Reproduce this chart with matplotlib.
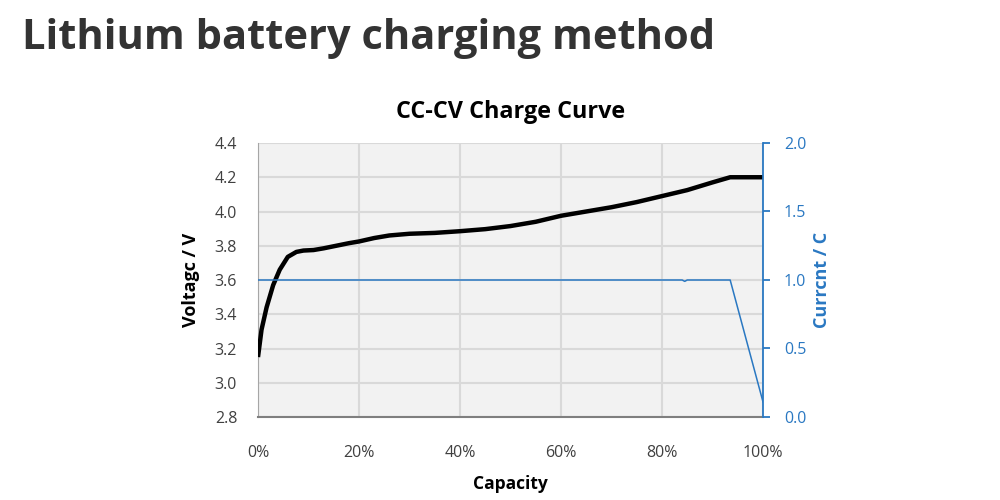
import matplotlib.pyplot as plt
from matplotlib.ticker import FuncFormatter

# charge curve
capacity = [0, 0.7, 1.7, 3.0, 4.3, 5.9, 7.6, 9.0, 11.0, 13.0, 15.5, 18.0, 20.0,
	23.0, 26.0, 30.0, 35.0, 40.0, 45.0, 50.0, 55.0, 60.0, 65.0, 70.0,
	75.0, 80.0, 85.0, 90.0, 93.5, 100.0]
voltage = [3.15, 3.31, 3.44, 3.57, 3.66, 3.735, 3.764, 3.772, 3.775, 3.785,
	3.80, 3.815, 3.825, 3.845, 3.86, 3.87, 3.875, 3.885, 3.897, 3.915,
	3.94, 3.975, 4.0, 4.025, 4.055, 4.09, 4.125, 4.17, 4.2, 4.2]

cur_capacity = [0, 84.0, 84.5, 85.0, 93.5, 100.0]
current = [1.0, 1.0, 0.99, 1.0, 1.0, 0.11]

volt_ticks = [2.8, 3.0, 3.2, 3.4, 3.6, 3.8, 4.0, 4.2, 4.4]
cur_ticks = [0.0, 0.5, 1.0, 1.5, 2.0]
cap_ticks = [0, 20, 40, 60, 80, 100]

BLUE = "#2a78c2"
TXT = "#404040"
FONT = ["Open Sans", "DejaVu Sans"]

plt.rcParams["font.family"] = FONT

fig = plt.figure(figsize=(10, 5), dpi=100)
ax = fig.add_axes([0.258, 0.166, 0.505, 0.548])
ax.set_facecolor("#f2f2f2")

ax.plot(capacity, voltage, color="black", lw=3.2, solid_capstyle="butt",
	zorder=3)
ax.set_xlim(0, 100)
ax.set_ylim(2.8, 4.4)
ax.set_xticks(cap_ticks)
ax.set_yticks(volt_ticks)
ax.xaxis.set_major_formatter(FuncFormatter(lambda v, p: "%d%%" % v))
ax.yaxis.set_major_formatter(FuncFormatter(lambda v, p: "%.1f" % v))
ax.grid(True, color="#d9d9d9", lw=1.5)
ax.set_axisbelow(True)
ax.tick_params(axis="both", length=0, labelsize=11.5, colors=TXT)
ax.tick_params(axis="x", pad=20)
ax.tick_params(axis="y", pad=15)
for s in ["top", "right"]:
	ax.spines[s].set_visible(False)
ax.spines["left"].set_color("#a6a6a6")
ax.spines["bottom"].set_color("#7f7f7f")
ax.spines["bottom"].set_linewidth(1.5)
ax.set_ylabel("Voltagc / V", fontsize=13, fontweight="bold",
	color="black", labelpad=11)
ax.set_xlabel("Capacity", fontsize=12.5, fontweight="bold", color="black",
	labelpad=10)
ax.set_title("CC-CV Charge Curve", fontsize=16.8, fontweight="bold",
	color="black", pad=18)

ax2 = ax.twinx()
ax2.plot(cur_capacity, current, color=BLUE, lw=1.1, zorder=2)
ax2.set_ylim(0, 2.0)
ax2.set_yticks(cur_ticks)
ax2.yaxis.set_major_formatter(FuncFormatter(lambda v, p: "%.1f" % v))
ax2.tick_params(axis="y", length=5, width=1.3, direction="out",
	colors=BLUE, labelsize=11.5, pad=10)
for s in ["top", "left", "bottom"]:
	ax2.spines[s].set_visible(False)
ax2.spines["right"].set_color(BLUE)
ax2.spines["right"].set_linewidth(1.3)
ax2.set_ylabel("Currcnt / C", fontsize=13, fontweight="bold",
	color=BLUE, labelpad=5)

fig.text(0.022, 0.923, "Lithium battery charging method", fontsize=30,
	fontweight="bold", color="#333333", ha="left", va="center")

fig.savefig("out.png", dpi=100)
